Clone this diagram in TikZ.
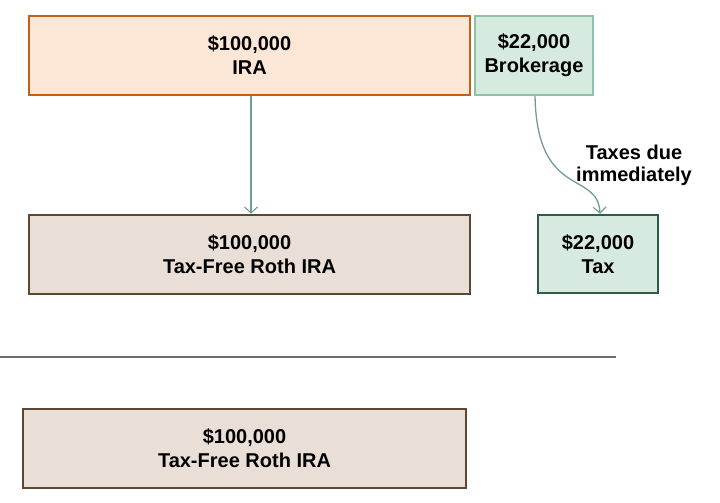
\documentclass[tikz,border=0pt]{standalone}
\usepackage{fontspec}
\setmainfont{Liberation Sans}
\usetikzlibrary{arrows.meta}
\definecolor{oranged}{HTML}{C3601A}
\definecolor{orangef}{HTML}{FCE6D6}
\definecolor{greenl}{HTML}{8DC3A5}
\definecolor{greenf}{HTML}{D6EADF}
\definecolor{greend}{HTML}{2E5E43}
\definecolor{brownd}{HTML}{5C4733}
\definecolor{brownf}{HTML}{E9DFD6}
\definecolor{arrowc}{HTML}{6E9F8B}
\definecolor{sepc}{HTML}{6E6E6E}
\tikzset{
  box/.style={draw, inner sep=0pt, align=center, font=\bfseries\fontsize{20}{24}\selectfont},
  arr/.style={draw=arrowc, line width=1.3pt, -{Straight Barb[length=6pt,width=13pt,line width=1.1pt]}},
}
\begin{document}
\begin{tikzpicture}[x=1pt,y=-1pt]
\useasboundingbox (0,0) rectangle (720,503);
\node[box, fill=orangef, draw=oranged, line width=2.6pt, minimum width=441pt, minimum height=79pt] (ira) at (249.5,55.5) {\$100,000\\IRA};
\node[box, fill=greenf, draw=greenl, line width=2pt, minimum width=118pt, minimum height=79pt] (brok) at (534,55.5) {\$22,000\\Brokerage};
\node[box, fill=brownf, draw=brownd, line width=2.6pt, minimum width=441pt, minimum height=79pt] (roth1) at (249.5,254.5) {\$100,000\\Tax-Free Roth IRA};
\node[box, fill=greenf, draw=greend, line width=2.4pt, minimum width=120pt, minimum height=78pt] (tax) at (598,254) {\$22,000\\Tax};
\node[box, fill=brownf, draw=brownd, line width=2.6pt, minimum width=443pt, minimum height=79pt] (roth2) at (244.5,448.5) {\$100,000\\Tax-Free Roth IRA};
\node[align=center, font=\bfseries\fontsize{20}{22}\selectfont] (lbl) at (634,165) {Taxes due\\immediately};
\coordinate (sepL) at (0,357);
\coordinate (sepR) at (616,357);
\draw[sepc, line width=2.4pt] (sepL) -- (sepR);
\draw[arr] ([xshift=1.5pt]ira.south) -- ([xshift=1.5pt]roth1.north);
\draw[arr] ([xshift=1pt]brok.south) .. controls (537,200) and (598,170) .. ([xshift=2pt]tax.north);
\end{tikzpicture}
\end{document}
